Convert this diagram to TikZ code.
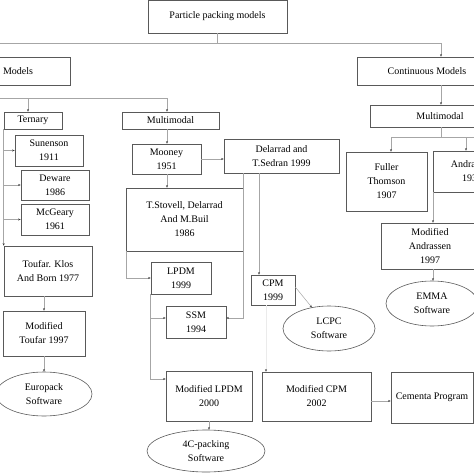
\documentclass[tikz,border=0pt]{standalone}
\usepackage{fontspec}
\setmainfont{Liberation Serif}
\usetikzlibrary{shapes.geometric,arrows.meta}

\begin{document}
\begin{tikzpicture}[x=1pt,y=-1pt,
  box/.style={draw=black!65,line width=0.6pt,align=center,inner sep=1pt,font=\fontsize{10}{14}\selectfont},
  oval/.style={box,ellipse},
  sz/.style 2 args={minimum width=#1pt,minimum height=#2pt},
  conn/.style={draw=black!35,line width=0.5pt},
  arr/.style={conn,-{Stealth[length=2.5pt,width=2pt,color=black!80]}}]
\useasboundingbox (0,0) rectangle (474,474);
\clip (0,0) rectangle (474,474);

\node[box,sz={139}{33}] (ppm) at (217.5,16.5) {Particle packing models};
\node[box,sz={104}{28}] (disc) at (18,71) {Models};
\node[box,sz={140}{28}] (cont) at (427,71) {Continuous Models};
\node[box,sz={58}{17}] (tern) at (33,120.5) {Ternary};
\node[box,sz={97}{17}] (mmd) at (170.5,120.5) {Multimodal};
\node[box,sz={140}{22}] (mmc) at (440,116) {Multimodal};
\node[box,sz={68}{31}] (sun) at (49,150.5) {Sunenson\\1911};
\node[box,sz={68}{30}] (dew) at (55,185) {Deware\\1986};
\node[box,sz={68}{31}] (mcg) at (55,219.5) {McGeary\\1961};
\node[box,sz={88}{50}] (tkb) at (48,271) {Toufar. Klos\\And Born 1977};
\node[box,sz={82}{45}] (mtf) at (44,333.5) {Modified\\Toufar 1997};
\node[oval,sz={96}{44}] (eur) at (44,394) {Europack\\Software};
\node[box,sz={69}{30}] (moo) at (166.5,159) {Mooney\\1951};
\node[box,sz={115}{34}] (del) at (281.5,156) {Delarrad and\\T.Sedran 1999};
\node[box,sz={117}{63}] (tsd) at (184.5,219.5) {T.Stovell, Delarrad\\And M.Buil\\1986};
\node[box,sz={60}{32}] (lpdm) at (181,278) {LPDM\\1999};
\node[box,sz={60}{32}] (ssm) at (196,322) {SSM\\1994};
\node[box,sz={44}{30}] (cpm) at (273,290) {CPM\\1999};
\node[oval,sz={92}{45}] (lcpc) at (329,328.5) {LCPC\\Software};
\node[box,sz={86}{50}] (mlpdm) at (209,396) {Modified LPDM\\2000};
\node[oval,sz={118}{42}] (fourc) at (206,451) {4C-packing\\Software};
\node[box,sz={109}{49}] (mcpm) at (316.5,396.5) {Modified CPM\\2002};
\node[box,sz={82}{51}] (cem) at (432,397.5) {Cementa Program};
\node[box,sz={81}{59}] (ful) at (386.5,181.5) {Fuller\\Thomson\\1907};
\node[box,sz={78}{41}] (and) at (472,171.5) {Andrassen\\1930};
\node[box,sz={98}{46}] (mand) at (430,246) {Modified\\Andrassen\\1997};
\node[oval,sz={92}{45}] (emma) at (432,303.5) {EMMA\\Software};

\coordinate (tl) at (-5,43);
\coordinate (tr) at (441,43);
\draw[conn] (ppm.south) -- (ppm.south |- tl);
\draw[conn] (tl) -- (tr);
\draw[arr] (tr) -- (tr |- cont.north);
\draw[arr] (tr |- cont.south) -- (tr |- mmc.north);

\coordinate (ml) at (-5,98);
\coordinate (mr) at (167,98);
\coordinate (mt) at (28,98);
\draw[conn] (ml) -- (mr);
\draw[arr] (mt) -- (mt |- tern.north);
\draw[arr] (mr) -- (mr |- mmd.north);
\draw[arr] (tern.south west) -- (tkb.north west);
\foreach \n in {sun,dew,mcg}
  \draw[arr] (tern.south west |- \n.west) -- (\n.west);
\draw[arr] (mtf.north |- tkb.south) -- (mtf.north);
\draw[arr] (mtf) -- (eur);

\draw[arr] (mr |- mmd.south) -- (mr |- moo.north);
\draw[arr] (moo.east) -- (moo.east -| del.west);
\draw[arr] (mr |- moo.south) -- (mr |- tsd.north);
\draw[arr] ([xshift=1pt]tsd.south west) |- (lpdm.west);
\draw[arr] (lpdm.south west) |- ([yshift=17pt]mlpdm.west);
\coordinate (sw) at ([yshift=4pt]ssm.west);
\coordinate (se) at ([yshift=4pt]ssm.east);
\draw[arr] (lpdm.south west |- sw) -- (sw);
\draw[arr] (del.south -| tsd.east) |- (se);
\coordinate (dc) at ([xshift=-14pt]cpm.north);
\draw[arr] (dc |- del.south) -- (dc);
\draw[arr] ([yshift=3pt]cpm.east) -- (lcpc);
\coordinate (cc) at ([xshift=-7pt]cpm.south);
\draw[arr,draw=black!8] (cc) -- (cc |- mcpm.north);
\draw[arr] (mlpdm.south) -- (mlpdm.south |- fourc.north);
\coordinate (ce) at ([yshift=-4.5pt]mcpm.east);
\draw[arr] (ce) -- (ce -| cem.west);

\coordinate (rb) at (441,137);
\coordinate (rl) at (391,137);
\coordinate (rr) at (480,137);
\coordinate (ra) at (466,137);
\draw[conn] (rb |- mmc.south) -- (rb);
\draw[conn] (rl) -- (rr);
\draw[arr] (rl) -- (rl |- ful.north);
\draw[arr] (ra) -- (ra |- and.north);
\coordinate (am) at (433,246);
\draw[arr] (am |- and.south) -- (am |- mand.north);
\draw[arr] (am |- mand.south) -- (am |- emma.north);
\end{tikzpicture}
\end{document}
